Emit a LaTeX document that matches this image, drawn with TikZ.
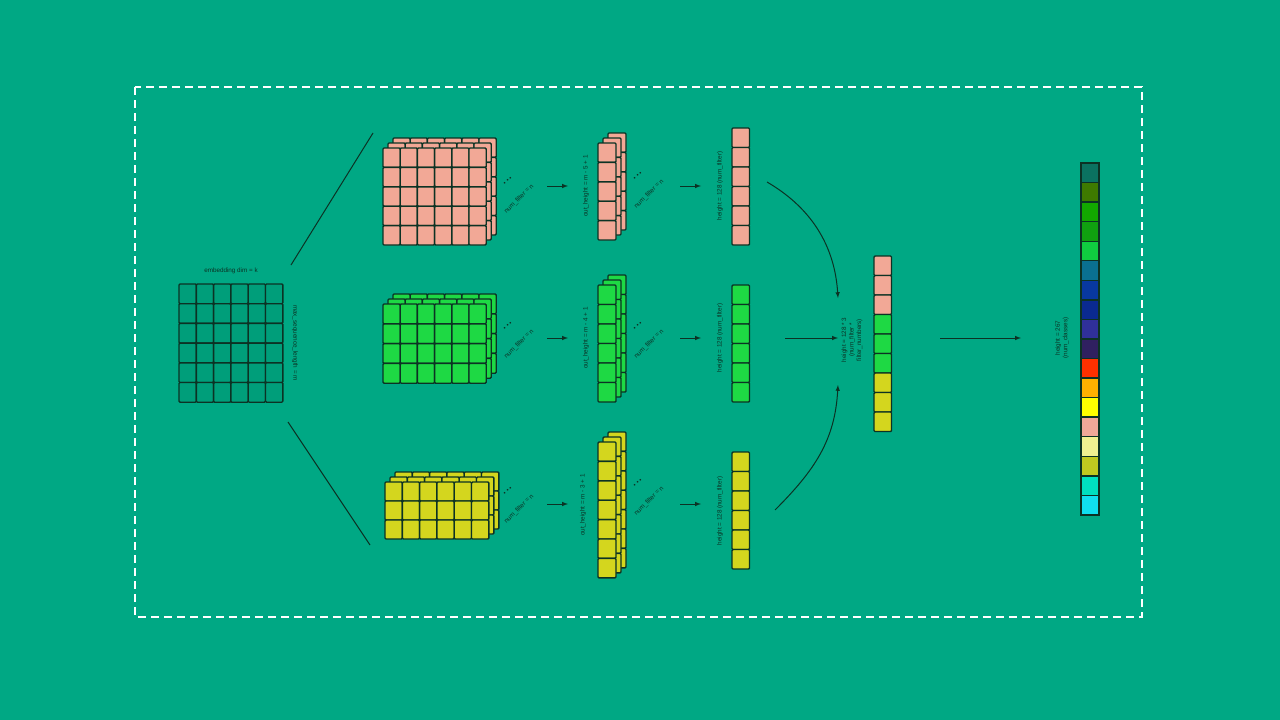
\documentclass[tikz,border=0pt]{standalone}
\usepackage{fontspec}
\setmainfont{Liberation Sans}
\definecolor{bg}{RGB}{0,168,132}
\definecolor{emb}{RGB}{0,158,122}
\definecolor{pk}{RGB}{242,168,150}
\definecolor{gr}{RGB}{30,217,68}
\definecolor{yl}{RGB}{212,214,30}
\definecolor{ln}{RGB}{12,50,36}
\newcommand\myblock[7]{% x y cols rows cw ch color
  \foreach \i in {0,...,\numexpr#3-1\relax}{\foreach \j in {0,...,\numexpr#4-1\relax}{
    \draw[ln,fill=#7,line width=1.4pt,rounded corners=1pt] ({#1+\i*#5},{#2+\j*#6}) rectangle ++(#5,#6);}}}
\newcommand\mystack[7]{%
  \myblock{#1+10}{#2-10}{#3}{#4}{#5}{#6}{#7}
  \myblock{#1+5}{#2-5}{#3}{#4}{#5}{#6}{#7}
  \myblock{#1}{#2}{#3}{#4}{#5}{#6}{#7}}
\tikzset{lab/.style={font=\fontsize{6.3}{7.5}\selectfont,text=ln,align=center,inner sep=0pt},
  arr/.style={-latex,ln,line width=1pt}}
\begin{document}
\begin{tikzpicture}[x=1pt,y=-1pt]
\fill[bg] (0,0) rectangle (1280,720);
\useasboundingbox (0,0) rectangle (1280,720);
\draw[white,line width=1.8pt,dash pattern=on 8pt off 5pt] (135,87) rectangle (1142,617);
% embedding
\myblock{179}{284}{6}{6}{17.3}{19.7}{emb}
\node[lab] (embl) at (231,271) {embedding dim = k};
\node[lab,rotate=-90] (seql) at (295,343) {max\_sequence\_length = m};
\coordinate (e1) at (291,265); \coordinate (p0) at (373,133);
\coordinate (e2) at (288,422); \coordinate (y0) at (370,545);
\draw[ln,line width=1pt] (e1) -- (p0);
\draw[ln,line width=1pt] (e2) -- (y0);
% conv stacks
\mystack{383}{148}{6}{5}{17.2}{19.4}{pk}
\mystack{383}{304}{6}{4}{17.2}{19.8}{gr}
\mystack{385}{482}{6}{3}{17.3}{19}{yl}
\foreach \yy in {195,340,505}{
  \node[lab,rotate=45] at (508,{\yy-14}) {• • •};
  \node[lab,rotate=45] at (519,{\yy+4}) {num\_filter = n};}
\foreach \yy/\nm in {186/a,338/b,504/c}{
  \coordinate (s\nm) at (547,\yy); \coordinate (t\nm) at (568,\yy);
  \draw[arr] (s\nm) -- (t\nm);
  \coordinate (u\nm) at (680,\yy); \coordinate (v\nm) at (701,\yy);
  \draw[arr] (u\nm) -- (v\nm);}
\node[lab,rotate=90] at (586,186) {out\_height = m - 5 + 1};
\node[lab,rotate=90] at (586,338) {out\_height = m - 4 + 1};
\node[lab,rotate=90] at (583,505) {out\_height = m - 3 + 1};
\mystack{598}{143}{1}{5}{18}{19.4}{pk}
\mystack{598}{285}{1}{6}{18}{19.5}{gr}
\mystack{598}{442}{1}{7}{18}{19.4}{yl}
\foreach \yy in {190,340,497}{
  \node[lab,rotate=45] at (638,{\yy-14}) {• • •};
  \node[lab,rotate=45] at (649,{\yy+4}) {num\_filter = n};}
\node[lab,rotate=90] at (720,186) {height = 128 (num\_filter)};
\node[lab,rotate=90] at (720,338) {height = 128 (num\_filter)};
\node[lab,rotate=90] at (720,511) {height = 128 (num\_filter)};
\myblock{732}{128}{1}{6}{17.5}{19.5}{pk}
\myblock{732}{285}{1}{6}{17.5}{19.5}{gr}
\myblock{732}{452}{1}{6}{17.5}{19.5}{yl}
% merge
\coordinate (m1) at (767,182); \coordinate (m1e) at (838,298);
\coordinate (m2) at (775,510); \coordinate (m2e) at (838,385);
\coordinate (m3) at (785,338); \coordinate (m3e) at (838,338);
\draw[arr] (m1) .. controls (815,210) and (835,250) .. (m1e);
\draw[arr] (m2) .. controls (815,470) and (835,440) .. (m2e);
\draw[arr] (m3) -- (m3e);
\node[lab,rotate=90] at (852,340) {height = 128 * 3\\(num\_filter *\\filter\_numbers)};
\myblock{874}{256}{1}{3}{17.5}{19.5}{pk}
\myblock{874}{314.5}{1}{3}{17.5}{19.5}{gr}
\myblock{874}{373}{1}{3}{17.5}{19.5}{yl}
\coordinate (f1) at (940,338); \coordinate (f2) at (1021,338);
\draw[arr] (f1) -- (f2);
\node[lab,rotate=90] at (1062,338) {height = 267\\(num\_classes)};
\foreach \c [count=\k from 0] in {{11,114,96},{62,122,0},{18,168,0},{16,160,16},{16,204,64},{10,112,144},{8,56,160},{10,42,144},{48,48,154},{48,32,96},{255,48,0},{255,176,0},{255,255,0},{240,168,152},{240,240,144},{192,200,32},{0,224,192},{16,224,240}}{
  \definecolor{oc}{RGB}{\c}
  \draw[ln,fill=oc,line width=1.4pt] (1081,{163+\k*19.55}) rectangle ++(18,19.55);}
\end{tikzpicture}
\end{document}
